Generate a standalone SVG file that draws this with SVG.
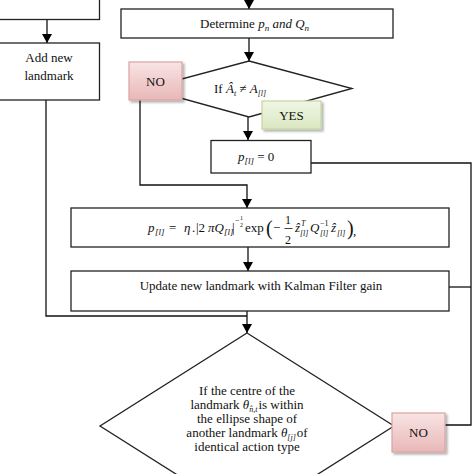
<svg xmlns="http://www.w3.org/2000/svg" width="474" height="474" viewBox="0 0 474 474" font-family="'Liberation Serif', 'Times New Roman', serif">
<defs>
<marker id="ah" markerUnits="userSpaceOnUse" markerWidth="9" markerHeight="10" refX="9" refY="5" orient="auto">
<path d="M0,0 L9,5 L0,10 z" fill="#000"/>
</marker>
<linearGradient id="gNo" x1="0" y1="0" x2="0" y2="1">
<stop offset="0" stop-color="#f9e4e4"/>
<stop offset="1" stop-color="#e9b7b7"/>
</linearGradient>
<linearGradient id="gYes" x1="0" y1="0" x2="0" y2="1">
<stop offset="0" stop-color="#f1f6e6"/>
<stop offset="1" stop-color="#d9e7bf"/>
</linearGradient>
<filter id="sh" x="-20%" y="-20%" width="150%" height="150%">
<feDropShadow dx="2" dy="2" stdDeviation="1.2" flood-color="#000" flood-opacity="0.3"/>
</filter>
</defs>
<style>
.box{fill:#fff;stroke:#222;stroke-width:1.3}
.ln{fill:none;stroke:#111;stroke-width:1.3}
.ar{marker-end:url(#ah)}
text{font-family:'Liberation Serif','Times New Roman',serif;fill:#111;font-size:13px}
.c{text-anchor:middle}
.m{font-style:italic}
.no{fill:url(#gNo);stroke:#d9a3a3;stroke-width:1.2;filter:url(#sh)}
.yes{fill:url(#gYes);stroke:#c5d6a3;stroke-width:1.2;filter:url(#sh)}
</style>
<rect width="474" height="474" fill="#fff"/>

<g id="connectors">
<path class="ln ar" d="M47,19.5 V43"/>
<path class="ln ar" d="M249,0 V9"/>
<path class="ln ar" d="M249,38 V61"/>
<path class="ln ar" d="M248,117 V140"/>
<path class="ln ar" d="M140,100 V185 H247 V208"/>
<path class="ln" d="M311,163 H471 V425 H445"/>
<path class="ln" d="M449,287 H471"/>
<path class="ln ar" d="M248,247 V271"/>
<path class="ln" d="M46,100 V316 H247"/>
<path class="ln ar" d="M247,311 V333"/>
</g>

<g id="n_prev">
<rect class="box" x="-5" y="-10" width="104.5" height="29.5"/>
</g>

<g id="n_add">
<rect class="box" x="-2" y="43" width="101.5" height="57"/>
<text class="c" x="49" y="62">Add new</text>
<text class="c" x="49" y="80">landmark</text>
</g>

<g id="n_determine">
<rect class="box" x="121" y="9" width="272" height="29"/>
<text x="200" y="28">Determine <tspan class="m">p</tspan><tspan class="m" font-size="9" dy="3">n</tspan><tspan class="m" dy="-3"> and Q</tspan><tspan class="m" font-size="9" dy="3">n</tspan></text>
</g>

<g id="n_dec1">
<polygon class="box" points="249,61 352,88.5 249,117 146,88.5"/>
<text x="214" y="93" font-size="12">If <tspan class="m">Â</tspan><tspan class="m" font-size="8" dy="3">t</tspan><tspan dy="-3"> ≠ </tspan><tspan class="m">A</tspan><tspan class="m" font-size="8" dy="3">[l]</tspan></text>
</g>

<g id="n_no1">
<rect class="no" x="129" y="62" width="53" height="38"/>
<text class="c" x="155.5" y="86" font-size="14">NO</text>
</g>

<g id="n_yes">
<rect class="yes" x="262" y="101" width="59" height="28"/>
<text class="c" x="291.5" y="120" font-size="13">YES</text>
</g>

<g id="n_p0">
<rect class="box" x="211" y="140.5" width="100" height="32.5"/>
<text x="238" y="161" font-size="14"><tspan class="m">p</tspan><tspan class="m" font-size="9" dy="3">[l]</tspan><tspan dy="-3"> = 0</tspan></text>
</g>

<g id="n_formula">
<rect class="box" x="71" y="208" width="378" height="39"/>
<text font-size="14">
<tspan class="m" x="148" y="232">p</tspan><tspan class="m" font-size="9" x="155" y="235">[l]</tspan>
<tspan x="169" y="232">=</tspan>
<tspan class="m" x="184" y="232">η</tspan><tspan x="192" y="232">.</tspan>
<tspan x="196" y="232">|2</tspan><tspan class="m" x="208" y="232">πQ</tspan><tspan class="m" font-size="9" x="224" y="235">[l]</tspan>
<tspan x="232" y="232">|</tspan><tspan font-size="8" x="235" y="223">−</tspan><tspan font-size="6" x="240" y="220">1</tspan><tspan font-size="6" x="240" y="227">2</tspan>
<tspan x="245" y="232">exp</tspan>
<tspan font-size="20" x="266" y="235">(</tspan>
<tspan x="273" y="232">−</tspan>
<tspan font-size="12" x="285" y="224">1</tspan><tspan font-size="12" x="285" y="244">2</tspan>
<tspan class="m" x="295" y="232">ẑ</tspan><tspan class="m" font-size="8" x="301" y="226">T</tspan><tspan class="m" font-size="8" x="300" y="236">[l]</tspan>
<tspan class="m" x="310" y="232">Q</tspan><tspan font-size="8" x="320" y="226">−1</tspan><tspan class="m" font-size="8" x="320" y="236">[l]</tspan>
<tspan class="m" x="331" y="232">ẑ</tspan><tspan class="m" font-size="8" x="337" y="236">[l]</tspan>
<tspan font-size="20" x="347" y="235">)</tspan><tspan x="353" y="235">,</tspan>
</text>
<path d="M284.5,228.5 H292.5" stroke="#111" stroke-width="0.8"/>
</g>

<g id="n_update">
<rect class="box" x="71" y="271" width="378" height="40"/>
<text class="c" x="261" y="290">Update new landmark with Kalman Filter gain</text>
</g>

<g id="n_dec2">
<polygon class="box" points="247,333 394,426 247,519 100,426"/>
<text class="c" x="247" y="395">If the centre of the</text>
<text class="c" x="247" y="409">landmark <tspan class="m">θ</tspan><tspan class="m" font-size="8" dy="3">n̂,t</tspan><tspan dy="-3" dx="1">is within</tspan></text>
<text class="c" x="247" y="423">the ellipse shape of</text>
<text class="c" x="247" y="437">another landmark <tspan class="m">θ</tspan><tspan class="m" font-size="8" dy="3">[j]</tspan><tspan dy="-3" dx="1">of</tspan></text>
<text class="c" x="247" y="451">identical action type</text>
</g>

<g id="n_no2">
<rect class="no" x="392" y="413" width="53" height="39"/>
<text class="c" x="418.5" y="437" font-size="14">NO</text>
</g>
</svg>
